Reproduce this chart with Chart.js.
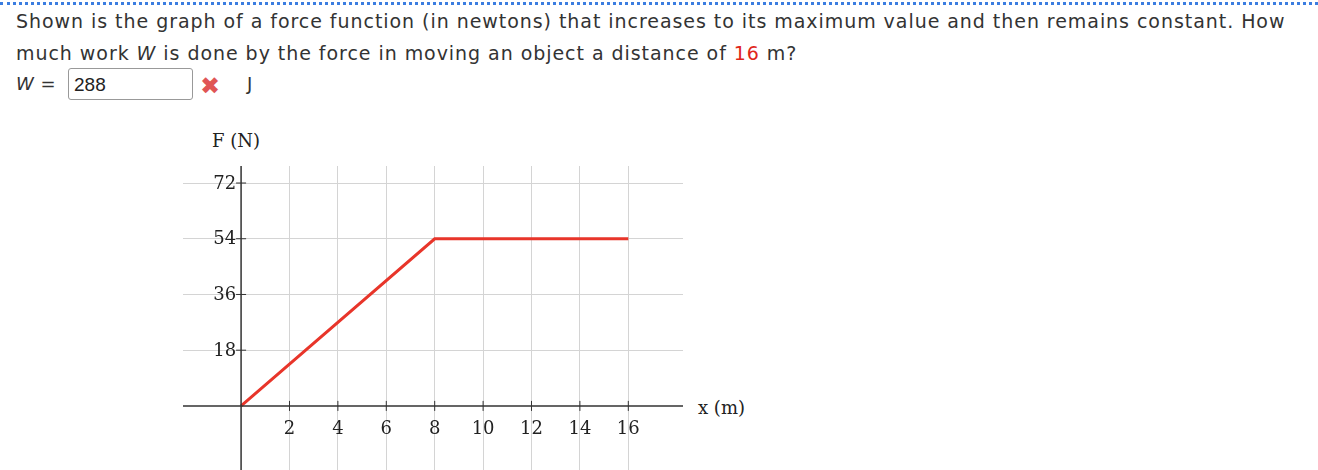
<!DOCTYPE html>
<html>
<head>
<meta charset="utf-8">
<script src="https://cdn.jsdelivr.net/npm/chart.js@4/dist/chart.umd.min.js"></script>
<style>
body{margin:0;width:1318px;height:470px;overflow:hidden;background:#fff;font-family:"DejaVu Sans",Verdana,sans-serif;color:#333;}
#top{position:absolute;left:0;top:2px;width:1318px;border-top:3px dotted #3b7de0;}
#q{position:absolute;left:16px;top:5px;font-size:19px;letter-spacing:0.95px;line-height:32px;width:1310px;white-space:nowrap;}
.red{color:#e0261b}
#ans{position:absolute;left:16px;top:73px;font-size:18px;letter-spacing:0.5px;}
#box{position:absolute;left:68px;top:68px;height:32px;border:1px solid #999;border-radius:3px;font-family:Arial,"Liberation Sans",sans-serif;font-size:19px;line-height:31px;padding-left:5px;box-sizing:border-box;width:125px;color:#222;}
#x{position:absolute;left:200px;top:72px;color:#e05555;font-size:24px;font-weight:bold;}
#j{position:absolute;left:247px;top:73px;font-size:18px;}
.lab{position:absolute;font-family:"DejaVu Serif",serif;font-size:18px;color:#222;}
#wrap{position:absolute;left:183px;top:166px;width:500px;height:304px;}
</style>
</head>
<body>
<div id="top"></div>
<div id="q">Shown is the graph of a force function (in newtons) that increases to its maximum value and then remains constant. How<br>much work <i>W</i> is done by the force in moving an object a distance of <span class="red">16</span> m?</div>
<div id="ans"><i>W</i> =</div>
<div id="box">288</div>
<div id="x">✖</div>
<div id="j">J</div>
<div class="lab" style="left:212px;top:130px;">F (N)</div>
<div class="lab" style="left:698px;top:397px;">x (m)</div>
<div id="wrap"><canvas id="c"></canvas></div>
<script>
var xs = [0, 8, 16];
var forces = [0, 54, 54];
var xTicks = [2, 4, 6, 8, 10, 12, 14, 16];
var yTicks = [18, 36, 54, 72];

var axesPlugin = {
  id: 'axes',
  afterDatasetsDraw: function(chart){
    var ctx = chart.ctx, sx = chart.scales.x, sy = chart.scales.y, a = chart.chartArea;
    var x0 = sx.getPixelForValue(0), y0 = sy.getPixelForValue(0);
    ctx.save();
    ctx.strokeStyle = '#333'; ctx.lineWidth = 1.5;
    ctx.beginPath();
    ctx.moveTo(x0, a.top); ctx.lineTo(x0, a.bottom);
    ctx.moveTo(a.left, y0); ctx.lineTo(a.right, y0);
    ctx.stroke();
    ctx.lineWidth = 1;
    ctx.fillStyle = '#222';
    ctx.font = '18px "DejaVu Serif", serif';
    ctx.textAlign = 'center'; ctx.textBaseline = 'top';
    xTicks.forEach(function(v){
      var p = sx.getPixelForValue(v);
      ctx.beginPath(); ctx.moveTo(p, y0 - 5); ctx.lineTo(p, y0 + 5); ctx.stroke();
      ctx.fillText(String(v), p, y0 + 14);
    });
    ctx.textAlign = 'right'; ctx.textBaseline = 'middle';
    yTicks.forEach(function(v){
      var p = sy.getPixelForValue(v);
      ctx.beginPath(); ctx.moveTo(x0 - 5, p); ctx.lineTo(x0 + 5, p); ctx.stroke();
      ctx.fillText(String(v), x0 - 5, p + 1);
    });
    ctx.restore();
  }
};

new Chart(document.getElementById('c'), {
  type: 'scatter',
  data: {
    datasets: [{
      data: xs.map(function(x, i){ return {x: x, y: forces[i]}; }),
      showLine: true,
      borderColor: '#e8352a',
      borderWidth: 3,
      pointRadius: 0,
      tension: 0
    }]
  },
  options: {
    responsive: true,
    maintainAspectRatio: false,
    animation: false,
    layout: {padding: 0},
    plugins: {legend: {display: false}, tooltip: {enabled: false}},
    scales: {
      x: {
        type: 'linear', min: -2.4, max: 18.26,
        afterBuildTicks: function(s){ s.ticks = xTicks.map(function(v){ return {value: v}; }); },
        ticks: {display: false},
        border: {display: false},
        grid: {color: '#d4d4d4', drawTicks: false}
      },
      y: {
        type: 'linear', min: -20.7, max: 77.5,
        afterBuildTicks: function(s){ s.ticks = yTicks.map(function(v){ return {value: v}; }); },
        ticks: {display: false},
        border: {display: false},
        grid: {color: '#d4d4d4', drawTicks: false}
      }
    }
  },
  plugins: [axesPlugin]
});
</script>
</body>
</html>
